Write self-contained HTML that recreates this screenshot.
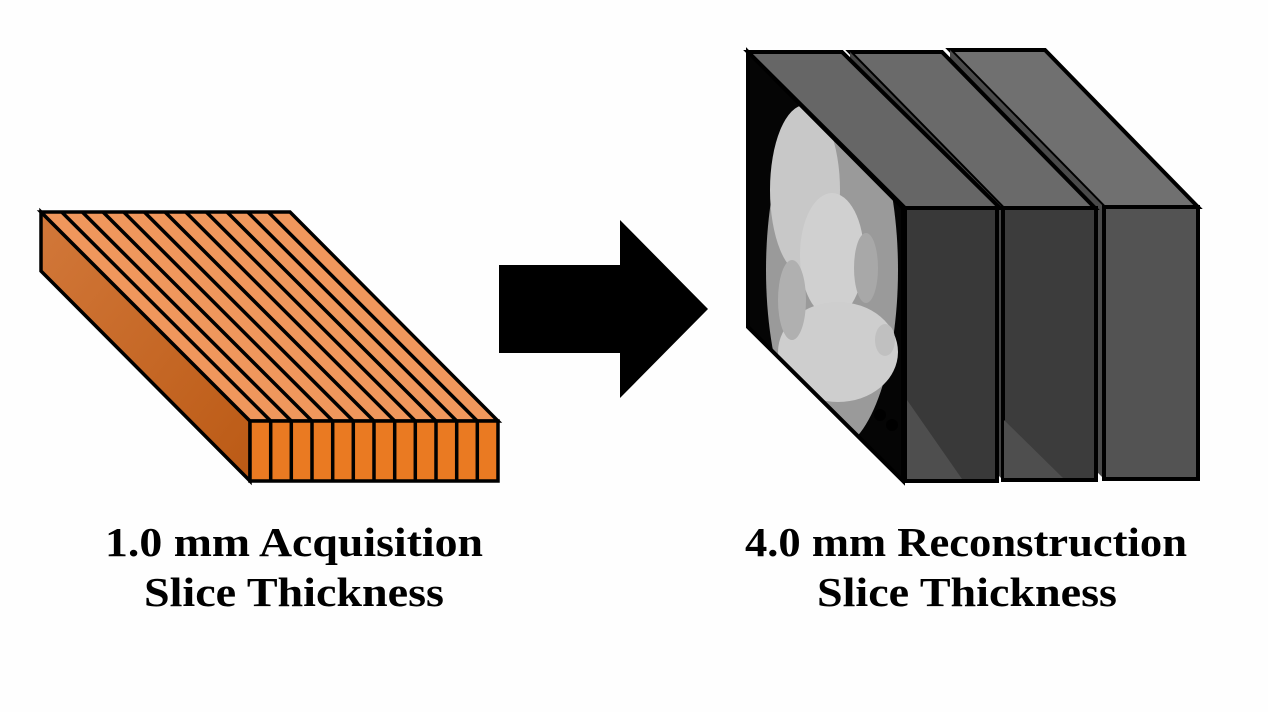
<!DOCTYPE html>
<html><head><meta charset="utf-8"><style>html,body{margin:0;padding:0;background:#fefefe}svg{display:block}</style></head>
<body>
<svg width="1268" height="712" viewBox="0 0 1268 712" xmlns="http://www.w3.org/2000/svg">
<defs>
<linearGradient id="side" x1="0" y1="0" x2="1" y2="1">
<stop offset="0" stop-color="#d2783a"/><stop offset="1" stop-color="#bb5a15"/></linearGradient>
<clipPath id="ct"><polygon points="748,52 903,208 903,481 748,327"/></clipPath>
</defs>
<rect width="1268" height="712" fill="#fefefe"/>
<g stroke="#000" stroke-width="3.5" stroke-linejoin="miter">
<polygon points="41,212 250,421 250,481 41,271" fill="url(#side)"/>
<polygon points="41,212 290,212 498,421 250,421" fill="#f0975c"/>
<rect x="250" y="421" width="248" height="60" fill="#ea7a22"/>
</g>
<g stroke="#000" stroke-width="3.5">
<line x1="61.7" y1="212" x2="270.7" y2="421"/><line x1="82.3" y1="212" x2="291.3" y2="421"/>
<line x1="103" y1="212" x2="312" y2="421"/><line x1="123.7" y1="212" x2="332.7" y2="421"/>
<line x1="144.3" y1="212" x2="353.3" y2="421"/><line x1="165" y1="212" x2="374" y2="421"/>
<line x1="185.7" y1="212" x2="394.7" y2="421"/><line x1="206.3" y1="212" x2="415.3" y2="421"/>
<line x1="227" y1="212" x2="436" y2="421"/><line x1="247.7" y1="212" x2="456.7" y2="421"/>
<line x1="268.3" y1="212" x2="477.3" y2="421"/>
<line x1="270.7" y1="421" x2="270.7" y2="481"/><line x1="291.3" y1="421" x2="291.3" y2="481"/>
<line x1="312" y1="421" x2="312" y2="481"/><line x1="332.7" y1="421" x2="332.7" y2="481"/>
<line x1="353.3" y1="421" x2="353.3" y2="481"/><line x1="374" y1="421" x2="374" y2="481"/>
<line x1="394.7" y1="421" x2="394.7" y2="481"/><line x1="415.3" y1="421" x2="415.3" y2="481"/>
<line x1="436" y1="421" x2="436" y2="481"/><line x1="456.7" y1="421" x2="456.7" y2="481"/>
<line x1="477.3" y1="421" x2="477.3" y2="481"/>
</g>
<polygon points="499,265 620,265 620,220 708,309 620,398 620,353 499,353" fill="#000"/>
<g stroke="#000" stroke-width="4">
<polygon points="950,50 1045,50 1198,207 1104,207" fill="#707070"/>
<polygon points="950,50 1104,207 1104,479 950,322" fill="#4a4a4a" stroke="none"/>
<rect x="1104" y="207" width="94" height="272" fill="#535353"/>
</g>
<g stroke="#000" stroke-width="4">
<polygon points="850,52 942,52 1095,208 1003,208" fill="#6a6a6a"/>
<polygon points="850,52 1003,208 1003,480 850,325" fill="#454545" stroke="none"/>
<rect x="1003" y="208" width="93" height="272" fill="#3c3c3c"/>
<polygon points="1004,420 1004,478 1063,478" fill="#4e4e4e" stroke="none"/>
</g>
<g stroke="#000" stroke-width="4">
<polygon points="748,52 842,52 1000,208 905,208" fill="#666"/>
<rect x="905" y="208" width="92" height="273" fill="#393939"/>
<polygon points="907,400 907,479 962,479" fill="#4e4e4e" stroke="none"/>
</g>
<g clip-path="url(#ct)">
<rect x="740" y="40" width="170" height="450" fill="#050505"/>
<ellipse cx="832" cy="270" rx="66" ry="180" fill="#9a9a9a"/>
<ellipse cx="805" cy="190" rx="35" ry="85" fill="#c8c8c8"/>
<ellipse cx="832" cy="255" rx="32" ry="62" fill="#d0d0d0"/>
<ellipse cx="866" cy="268" rx="12" ry="35" fill="#a8a8a8"/>
<ellipse cx="838" cy="352" rx="60" ry="50" fill="#cecece"/>
<ellipse cx="885" cy="340" rx="10" ry="16" fill="#c0c0c0"/>
<ellipse cx="792" cy="300" rx="14" ry="40" fill="#b0b0b0"/>
<circle cx="880" cy="415" r="6" fill="#000"/><circle cx="892" cy="425" r="6" fill="#000"/>
</g>
<polygon points="748,52 903,208 903,481 748,327" fill="none" stroke="#000" stroke-width="4"/>
<line x1="905" y1="208" x2="905" y2="481" stroke="#000" stroke-width="4"/>
<g font-family="'Liberation Serif',serif" font-weight="bold" font-size="41" fill="#000">
<text x="105" y="556" textLength="378" lengthAdjust="spacingAndGlyphs">1.0 mm Acquisition</text>
<text x="144" y="606" textLength="300" lengthAdjust="spacingAndGlyphs">Slice Thickness</text>
<text x="745" y="556" textLength="442" lengthAdjust="spacingAndGlyphs">4.0 mm Reconstruction</text>
<text x="817" y="606" textLength="300" lengthAdjust="spacingAndGlyphs">Slice Thickness</text>
</g>
</svg>
</body></html>
